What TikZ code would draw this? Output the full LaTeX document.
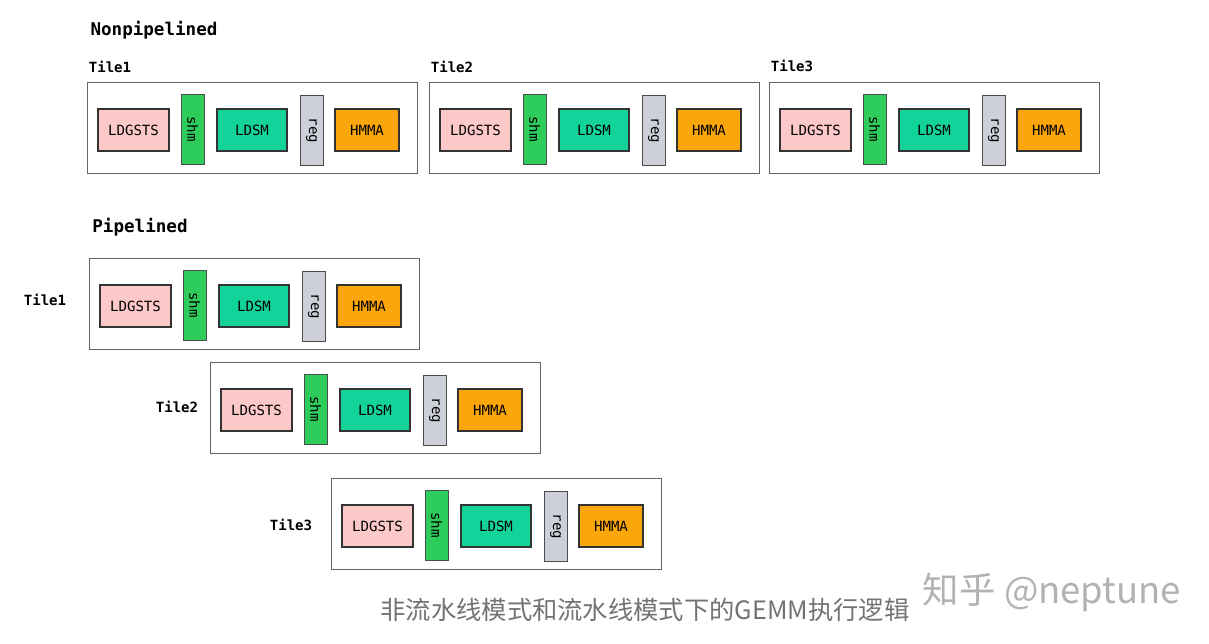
\documentclass[tikz,border=0pt]{standalone}
\usepackage{fontspec}
\setmonofont{DejaVu Sans Mono}
\newfontfamily\cjk{Noto Sans CJK SC}
\usetikzlibrary{positioning}
\definecolor{ldgsts}{HTML}{FCC8C8}
\definecolor{shmc}{HTML}{2ECC5A}
\definecolor{ldsmc}{HTML}{12D49A}
\definecolor{regc}{HTML}{CDD0D8}
\definecolor{hmmac}{HTML}{FBA70C}
\tikzset{
  frame/.style={draw=black!60, line width=0.6pt, minimum width=330*0.02cm, minimum height=91*0.02cm, anchor=north west},
  unit/.style={draw=black!80, line width=0.8pt, font=\ttfamily\footnotesize, minimum height=42*0.02cm, inner sep=0pt},
  bar/.style={draw=black!70, line width=0.5pt, font=\ttfamily\footnotesize, minimum width=70*0.02cm, minimum height=23*0.02cm, rotate=-90, inner sep=0pt},
  lbl/.style={font=\ttfamily\footnotesize\bfseries},
  head/.style={font=\ttfamily\bfseries}
}
% one tile: name, left, top
\newcommand{\tilebox}[3]{
  \node[frame] (#1) at (#2,#3) {};
  \node[unit, fill=ldgsts, minimum width=71*0.02cm] (#1a) at (#2+46.5,#3+48) {LDGSTS};
  \node[bar, fill=shmc] (#1b) at (#2+105.5,#3+47) {shm};
  \node[unit, fill=ldsmc, minimum width=70*0.02cm] (#1c) at (#2+165,#3+48) {LDSM};
  \node[bar, fill=regc] (#1d) at (#2+224.5,#3+48.5) {reg};
  \node[unit, fill=hmmac, minimum width=64*0.02cm] (#1e) at (#2+280,#3+48) {HMMA};
}
\begin{document}
\begin{tikzpicture}[x=0.02cm, y=-0.02cm]
  \useasboundingbox (0,0) rectangle (1209,644);
  \node[head] (nonpipe) at (154,30) {Nonpipelined};
  \node[head] (pipe) at (140,227) {Pipelined};
  % nonpipelined
  \tilebox{na}{87}{82}
  \tilebox{nb}{429}{82}
  \tilebox{nc}{769}{82}
  \node[lbl] (nla) at (110,67) {Tile1};
  \node[lbl] (nlb) at (452,67) {Tile2};
  \node[lbl] (nlc) at (792,66) {Tile3};
  % pipelined
  \tilebox{pa}{89}{258}
  \tilebox{pb}{210}{362}
  \tilebox{pc}{331}{478}
  \node[lbl] (pla) at (45,300) {Tile1};
  \node[lbl] (plb) at (177,407) {Tile2};
  \node[lbl] (plc) at (291,525) {Tile3};
  % caption
  \node[font=\cjk\Large, text=black!55] (cap) at (645,610) {非流水线模式和流水线模式下的GEMM执行逻辑};
  \node[font=\cjk\huge, text=black!30] (mark) at (1052,592) {知乎 @neptune};
\end{tikzpicture}
\end{document}
